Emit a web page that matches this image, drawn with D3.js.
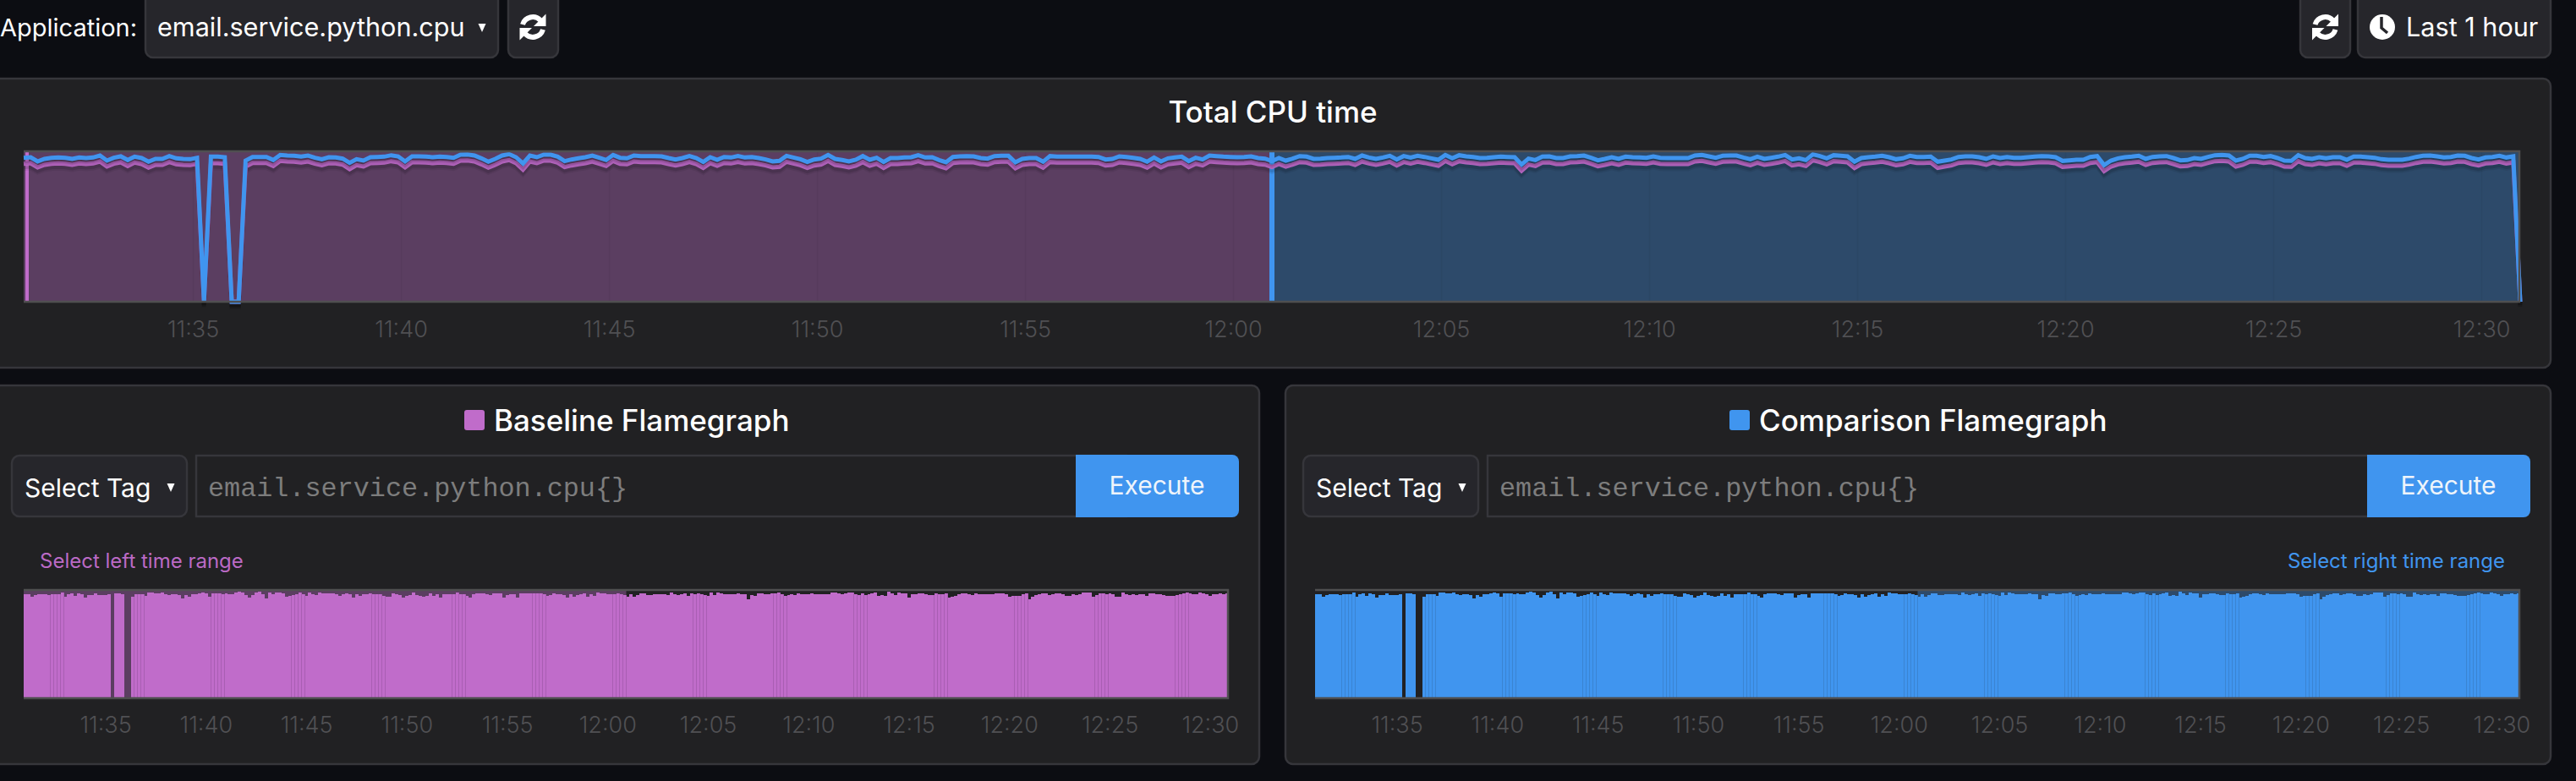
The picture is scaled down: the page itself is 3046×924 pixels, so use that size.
<!DOCTYPE html>
<html>
<head>
<meta charset="utf-8">
<title>Total CPU time</title>
<script src="https://cdn.jsdelivr.net/npm/d3@7"></script>
<style>
	html, body { margin: 0; padding: 0; background: #0c0d12; overflow: hidden; }
	svg { display: block; }
	text { font-family: Inter, "Noto Sans", sans-serif; }
</style>
</head>
<body>
<script>
//samples per 10 second step
var comparisonCpu = [
	511,513,498,507,511,512,511,507,512,510, 512,519,501,511,516,503,515,510,497,507,
	507,517,509,507,506,511,0,515,515,513, 0,0,501,514,514,514,503,521,519,518,
	515,519,511,506,513,512,508,493,506,501, 513,514,515,520,516,498,516,516,515,513,
	515,514,511,522,523,519,509,497,507,519, 524,513,491,519,513,522,522,515,499,505,
	509,513,519,511,503,521,511,509,519,517, 517,517,516,510,505,510,517,510,496,513,
	504,514,512,517,512,514,510,505,498,500, 518,512,506,496,505,508,521,507,503,498,
	504,517,504,511,496,510,510,512,513,520, 512,513,503,495,514,516,517,516,510,508,
	517,518,518,495,507,510,510,497,517,515, 515,515,515,515,515,514,505,507,516,514,
	511,507,497,512,498,509,512,515,499,511, 505,519,517,515,514,513,514,516,510,508,
	499,510,501,508,517,515,507,508,510,511, 512,514,507,519,512,507,512,518,505,517,
	512,518,514,509,504,521,509,520,516,514, 510,511,513,515,514,513,487,508,503,515,
	516,510,510,516,517,519,511,502,507,513, 507,515,513,512,511,516,511,510,510,510,
	510,519,521,516,511,518,519,519,512,506, 515,507,511,515,521,505,509,503,523,517,
	509,520,518,516,497,510,513,515,518,513, 506,509,518,514,514,515,497,501,505,514,
	516,516,513,507,516,510,514,511,511,513, 515,517,516,513,500,502,504,504,514,517,
	485,501,509,513,515,518,507,514,516,517, 510,502,503,510,507,514,520,521,519,501,
	507,518,518,514,517,510,501,500,520,510, 507,513,509,513,513,504,515,515,513,511,
	506,504,504,504,508,514,518,519,516,512, 514,519,518,510,505,512,514,518,512,516,
	0
];
var baselineCpu = [
	490,492,477,486,490,491,490,486,491,489, 491,498,480,490,495,482,494,489,476,486,
	486,496,488,486,485,490,0,492,492,490, 0,0,480,493,493,493,482,500,498,497,
	494,498,490,485,492,491,487,471,485,480, 492,493,494,499,495,477,495,495,494,492,
	494,493,490,501,502,498,488,476,486,498, 503,492,469,498,492,501,501,494,478,484,
	488,492,498,490,482,500,490,488,498,496, 496,496,495,489,484,489,496,489,475,492,
	483,493,491,496,491,493,489,484,477,479, 497,491,485,475,484,487,500,486,482,477,
	483,496,483,490,475,489,489,491,492,499, 491,492,482,474,493,495,496,495,489,487,
	496,497,497,474,486,489,489,476,496,494, 494,494,494,494,494,493,484,486,495,493,
	490,486,476,491,477,488,491,494,478,490, 484,498,496,494,493,492,493,495,489,487,
	478,489,480,487,496,494,486,487,489,490, 491,493,486,498,491,486,491,497,484,496,
	491,497,493,488,483,500,488,499,495,493, 489,490,492,494,493,492,465,487,482,494,
	495,489,489,495,496,498,490,481,486,492, 486,494,492,491,490,495,490,489,489,489,
	489,498,500,495,490,497,498,498,491,485, 494,486,490,494,500,484,488,482,502,496,
	488,499,497,495,475,489,492,494,497,492, 485,488,497,493,493,494,475,480,484,493,
	495,495,492,486,495,489,493,490,490,492, 494,496,495,492,479,481,483,483,493,496,
	464,480,488,492,494,497,486,493,495,496, 489,481,482,489,486,493,499,500,498,480,
	486,497,497,493,496,489,480,479,499,489, 486,492,488,492,492,483,494,494,492,490,
	485,483,483,483,487,493,497,498,495,491, 493,498,497,489,484,491,493,497,491,495,
	0
];
var tickLabels = ["11:35","11:40","11:45","11:50","11:55","12:00","12:05","12:10","12:15","12:20","12:25","12:30"];
var startTime = "11:30:56";
var splitTime = "12:00:56";
var endTime = "12:30:56";
var stepSeconds = 10;
var yMax = 537;

var PINK = "#c06cca", PINK_SEAM = "#a95eb3", BLUE = "#4095ef", BLUE_SEAM = "#3a84d2";
var PINK_TINT = "#5b3e61", BLUE_TINT = "#2d4a6a";
var PANEL = "#212123", EDGE = "#36363b", BTN = "#26262b", TICK = "#505053", AXIS_EDGE = "#4f4f50";

var parseClock = d3.utcParse("%H:%M:%S");
var parseTick = d3.utcParse("%H:%M");
var t0 = parseClock(startTime), tSplit = parseClock(splitTime), t1 = parseClock(endTime);
var tickDates = tickLabels.map(function(d) { return parseTick(d); });
function timeAt(i) { return new Date(t0.getTime() + i * stepSeconds * 1000); }

var svg = d3.select("body").append("svg").attr("width", 3046).attr("height", 924);

//chrome helpers
function box(x, y, w, h, fill, stroke, r) {
	return svg.append("rect").attr("x", x).attr("y", y).attr("width", w).attr("height", h)
		.attr("rx", r).attr("fill", fill).attr("stroke", stroke).attr("stroke-width", 2.5);
}
function label(str, x, y, size, color, anchor, weight) {
	return svg.append("text").text(str).attr("x", x).attr("y", y)
		.attr("font-size", size).attr("fill", color)
		.attr("text-anchor", anchor || "start").attr("font-weight", weight || 400);
}
function caret(x, y) {
	svg.append("path").attr("d", "M" + (x - 4.5) + " " + (y - 5) + "h9l-4.5 10z").attr("fill", "#fff");
}
function refreshIcon(cx, cy) {
	var g = svg.append("g").attr("transform", "translate(" + cx + "," + cy + ")");
	g.append("path").attr("d", "M-12 -3A12.5 12.5 0 0 1 9 -8").attr("fill", "none").attr("stroke", "#fff").attr("stroke-width", 6);
	g.append("path").attr("d", "M12 3A12.5 12.5 0 0 1 -9 8").attr("fill", "none").attr("stroke", "#fff").attr("stroke-width", 6);
	g.append("path").attr("d", "M15.5 -15.5V-1H1z").attr("fill", "#fff");
	g.append("path").attr("d", "M-15.5 15.5V1H-1z").attr("fill", "#fff");
}

//top bar
label("Application:", 0, 43, 29, "#fff");
box(172, -20, 417, 88, BTN, EDGE, 9);
label("email.service.python.cpu", 186, 43, 30.6, "#fff");
caret(570, 33);
box(601, -20, 59, 88, BTN, EDGE, 9);
refreshIcon(630, 32);
box(2720, -20, 59, 88, BTN, EDGE, 9);
refreshIcon(2749.5, 32);
box(2788, -20, 228, 88, BTN, EDGE, 9);
svg.append("circle").attr("cx", 2817).attr("cy", 32).attr("r", 15).attr("fill", "#fff");
svg.append("path").attr("d", "M2816 20V33L2823 39").attr("fill", "none").attr("stroke", BTN).attr("stroke-width", 3.5);
label("Last 1 hour", 2845, 43, 30.6, "#fff");

//panels
box(-20, 93, 3036, 342, PANEL, EDGE, 9);
box(-20, 456, 1509, 448, PANEL, EDGE, 9);
box(1520, 456, 1496, 448, PANEL, EDGE, 9);
label("Total CPU time", 1505, 145, 35, "#fff", "middle", 500);

//query row of a flamegraph panel
function queryRow(x, swatchX, swatch, title) {
	svg.append("rect").attr("x", swatchX).attr("y", 485).attr("width", 24).attr("height", 24).attr("rx", 3).attr("fill", swatch);
	label(title, swatchX + 35, 510, 35, "#fff", "start", 500);
	box(x, 539, 207, 72, BTN, EDGE, 9);
	label("Select Tag", x + 15, 588, 30, "#fff");
	caret(x + 188, 577);
	svg.append("rect").attr("x", x + 218).attr("y", 539).attr("width", 1100).attr("height", 72).attr("fill", PANEL).attr("stroke", EDGE).attr("stroke-width", 2.5);
	svg.append("path").attr("d", "M" + (x + 1258) + " 538H" + (x + 1443) + "a8 8 0 0 1 8 8V604a8 8 0 0 1 -8 8H" + (x + 1258) + "z").attr("fill", BLUE);
	label("email.service.python.cpu{}", x + 232, 587, 31.8, "#7d7d7d").style("font-family", '"Liberation Mono", monospace');
	label("Execute", x + 1354, 585, 30, "#eef4fb", "middle");
}
queryRow(14, 549, PINK, "Baseline Flamegraph");
queryRow(1541, 2045, BLUE, "Comparison Flamegraph");
label("Select left time range", 47, 672, 24, "#bb6ac5");
label("Select right time range", 2962, 672, 24, BLUE, "end");

//x axis with tick labels, optionally a grid drawn through the plot
function drawAxis(x, yBottom, gridHeight, padding) {
	var axis = d3.axisBottom(x).tickValues(tickDates)
		.tickFormat(function(d, i) { return tickLabels[i]; })
		.tickSize(0).tickPadding(padding);
	var g = svg.append("g").attr("transform", "translate(0," + yBottom + ")").call(axis);
	g.select(".domain").remove();
	g.selectAll("text").attr("fill", TICK).attr("font-size", 27).attr("font-weight", 300)
		.style("font-family", "Inter, sans-serif");
	if (gridHeight) {
		g.selectAll(".tick").append("line").attr("y1", 0).attr("y2", -gridHeight)
			.attr("stroke", "#000").attr("stroke-opacity", 0.04).attr("stroke-width", 1.5);
	}
}

function plotFrame(left, right, top, bottom) {
	svg.append("path")
		.attr("d", "M" + left + " " + (top + 1) + "H" + (right - 1) + "V" + bottom + "H" + left)
		.attr("fill", "none").attr("stroke", AXIS_EDGE).attr("stroke-width", 2.5);
}

//total cpu time chart
var xMain = d3.scaleUtc().domain([t0, t1]).range([28, 2980]);
var yMain = d3.scaleLinear().domain([0, yMax]).range([357, 178]);
var lineMain = d3.line()
	.x(function(d, i) { return xMain(timeAt(i)); })
	.y(function(d) { return yMain(d); });

svg.append("rect").attr("x", xMain(t0)).attr("y", yMain(yMax)).attr("width", xMain(tSplit) - xMain(t0)).attr("height", 179).attr("fill", PINK_TINT);
svg.append("rect").attr("x", xMain(tSplit)).attr("y", yMain(yMax)).attr("width", xMain(t1) - xMain(tSplit)).attr("height", 179).attr("fill", BLUE_TINT);
drawAxis(xMain, 357, 177, 23);
svg.append("rect").attr("x", xMain(t0) + 2).attr("y", 178).attr("width", 4).attr("height", 179).attr("fill", PINK);
svg.append("rect").attr("x", xMain(tSplit) - 3).attr("y", 178).attr("width", 6).attr("height", 179).attr("fill", BLUE);

[[baselineCpu, "#b565c0"], [comparisonCpu, BLUE]].forEach(function(s) {
	//flot style shadow under the line
	[[6, 0.07], [4, 0.12]].forEach(function(sh) {
		svg.append("path").datum(s[0]).attr("d", lineMain)
			.attr("transform", "translate(0," + sh[0] + ")")
			.attr("fill", "none").attr("stroke", "#000").attr("stroke-opacity", sh[1]).attr("stroke-width", 5);
	});
	svg.append("path").datum(s[0]).attr("d", lineMain)
		.attr("fill", "none").attr("stroke", s[1]).attr("stroke-width", 5).attr("stroke-linejoin", "miter");
});
plotFrame(28, 2980, 178, 357);

//small bar charts under the flamegraph titles
function barChart(left, right, color, seam, pickLeft) {
	var x = d3.scaleUtc().domain([t0, t1]).range([left, right]);
	var y = d3.scaleLinear().domain([0, yMax]).range([826, 697]);
	if (pickLeft) {
		svg.append("rect").attr("x", x(t0)).attr("y", 697).attr("width", x(tSplit) - x(t0)).attr("height", 129).attr("fill", PINK_TINT);
	} else {
		svg.append("rect").attr("x", x(tSplit)).attr("y", 697).attr("width", x(t1) - x(tSplit)).attr("height", 129).attr("fill", BLUE_TINT);
	}
	//darker layer shows through as a thin seam where a bar rounds down a pixel
	[[seam, 0], [color, 0.2]].forEach(function(layer) {
		svg.append("g").attr("shape-rendering", "crispEdges").selectAll("rect")
			.data(comparisonCpu.slice(0, -1))
			.enter()
			.append("rect")
			.attr("x", function(d, i) { return x(timeAt(i)); })
			.attr("y", function(d) { return y(d); })
			.attr("width", function(d, i) { return x(timeAt(i + 1)) - x(timeAt(i)) - layer[1]; })
			.attr("height", function(d) { return 826 - y(d); })
			.attr("fill", layer[0]);
	});
	plotFrame(left, right, 697, 826);
	drawAxis(x, 826, 0, 22);
}
barChart(28, 1453, PINK, PINK_SEAM, true);
barChart(1555, 2980, BLUE, BLUE_SEAM, false);
</script>
</body>
</html>
